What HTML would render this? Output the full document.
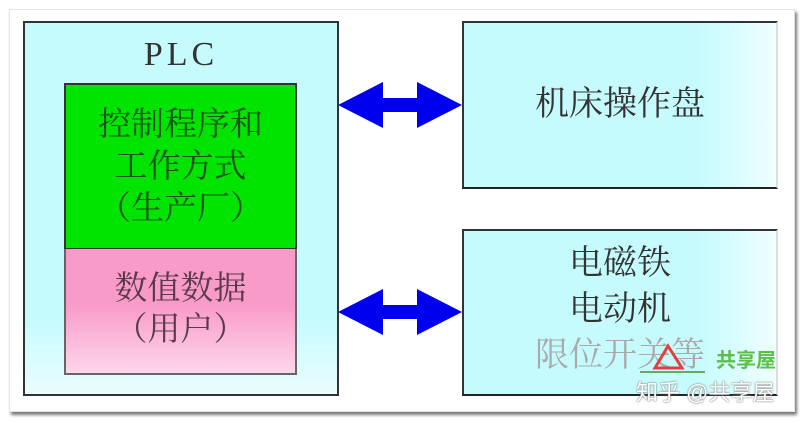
<!DOCTYPE html>
<html><head><meta charset="utf-8"><style>
body{margin:0;width:807px;height:423px;background:#fff;position:relative;overflow:hidden;font-family:"Liberation Serif","Noto Serif CJK SC",serif;}
.abs{position:absolute;box-sizing:border-box;}
.frame{left:9px;top:9px;width:786px;height:403px;border:1px solid #e4e4e4;box-shadow:2px 3px 3px #777;background:#fff;}
.plc{left:23px;top:21px;width:316px;height:375px;border:2px solid #333;background:linear-gradient(#c6fbfd,#c6fbfd 80%,#eafdfe);}
.green{left:64px;top:83px;width:233px;height:167px;border:2px solid #333;background:#00e400;color:#155315;text-align:center;font-size:33px;line-height:42px;padding-top:19px;}
.pink{left:64px;top:249px;width:233px;height:126px;border:2px solid #666;border-top:none;background:linear-gradient(#f99bc9,#f99bc9 45%,#fcd6ea);color:#5a3a4a;text-align:center;font-size:33px;line-height:41px;padding-top:20px;}
.rb{border:2px solid #333;border-right-color:#ddd;border-bottom-color:#222;background:linear-gradient(90deg,#c6fbfd,#c6fbfd 75%,#effeff);color:#333;text-align:center;font-size:34px;}
</style></head><body>
<div class="abs frame"></div>
<div class="abs plc"></div>
<div class="abs" style="left:23px;top:36px;width:316px;text-align:center;font-family:'Liberation Serif',serif;font-size:34px;letter-spacing:4px;color:#333;">PLC</div>
<div class="abs green">控制程序和<br>工作方式<br>（生产厂）</div>
<div class="abs pink">数值数据<br>（用户）</div>
<div class="abs rb" style="left:462px;top:21px;width:316px;height:168px;line-height:164px;">机床操作盘</div>
<div class="abs rb" style="left:462px;top:229px;width:316px;height:167px;padding-top:10px;line-height:46px;">电磁铁<br>电动机<br><span style="color:#aaa">限位开关等</span></div>
<svg class="abs" style="left:0;top:0" width="807" height="423">
<polygon points="338,105 383,82 383,98 417,98 417,82 462,105 417,128 417,112 383,112 383,128" fill="#0000ee"/>
<polygon points="338,312 383,289 383,305 417,305 417,289 462,312 417,335 417,319 383,319 383,335" fill="#0000ee"/>
<polygon points="655,368 668,346 682,368" fill="none" stroke="#e04040" stroke-width="3"/>
<line x1="640" y1="372" x2="705" y2="372" stroke="#6a6" stroke-width="2"/>
</svg>
<div class="abs" style="left:716px;top:344px;font-family:'Liberation Sans','Noto Sans CJK SC',sans-serif;font-size:20px;font-weight:bold;color:#5cbf4a;">共享屋</div>
<div class="abs" style="left:636px;top:375px;font-family:'Liberation Sans','Noto Sans CJK SC',sans-serif;font-size:22px;color:#fff;text-shadow:0 0 2px #888,0 0 1px #666;">知乎 @共享屋</div>
</body></html>
